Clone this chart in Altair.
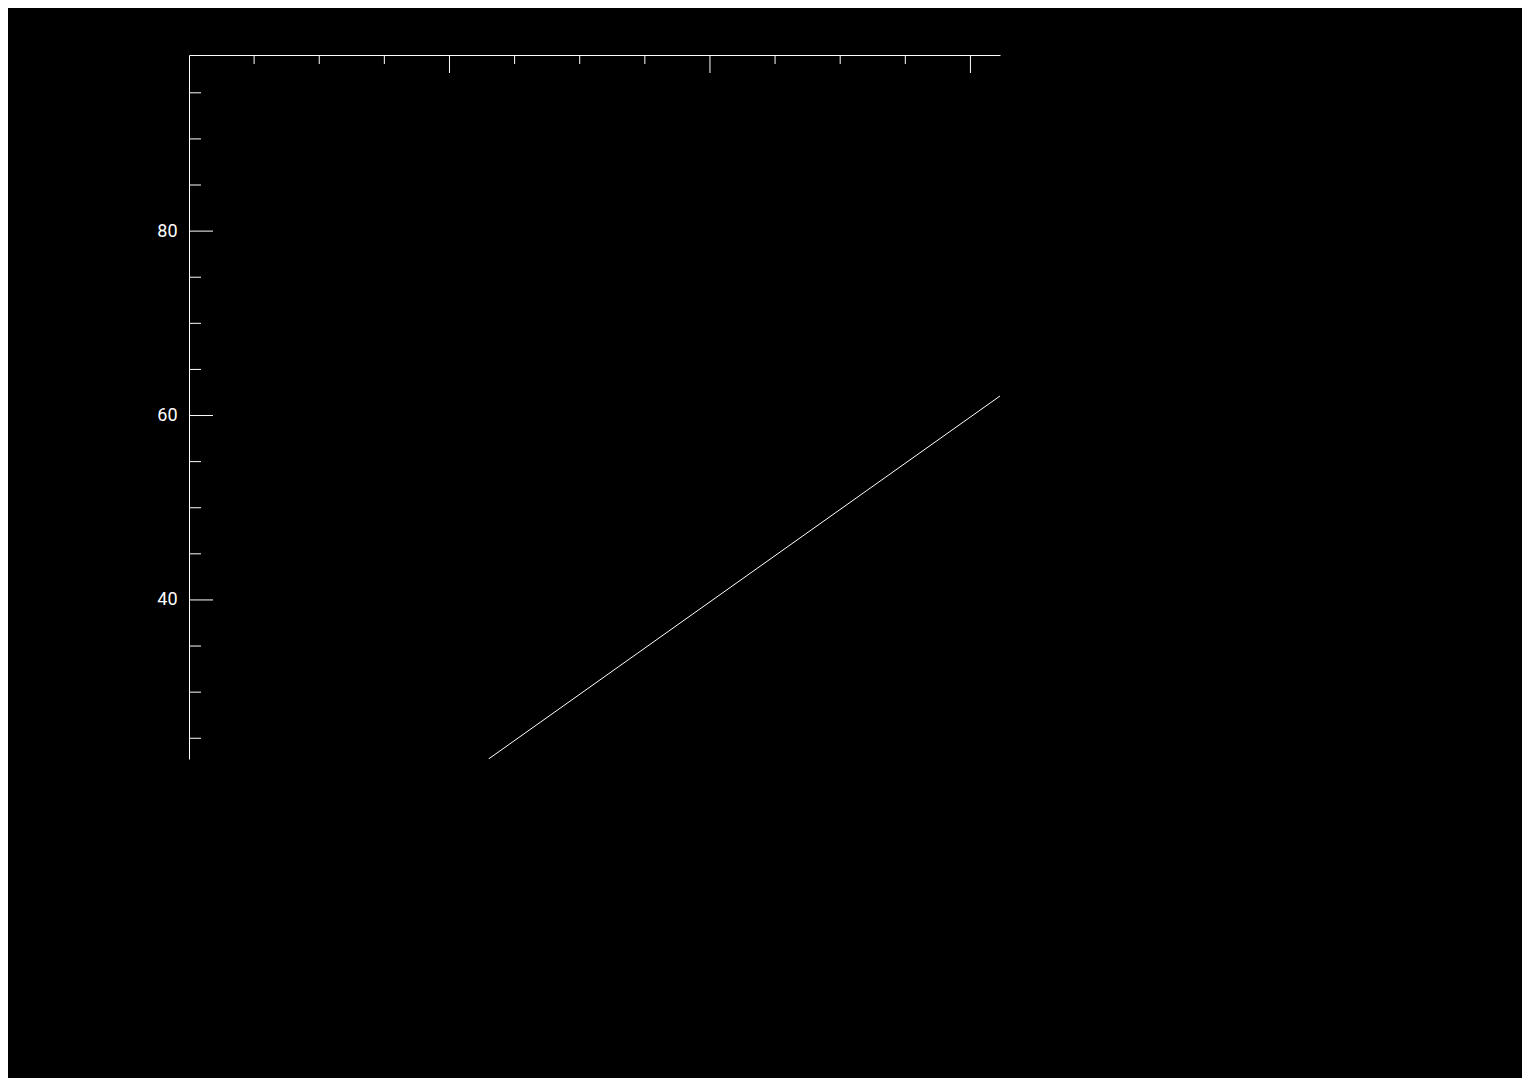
import altair as alt
import pandas as pd

# data
line_x = [23.0, 62.3]
line_y = [22.75, 62.15]
x_domain = [0, 62.27]
y_domain = [22.75, 99.1]
y_major = [40, 60, 80]
y_minor = [25, 30, 35, 45, 50, 55, 65, 70, 75, 85, 90, 95]
x_major = [20, 40, 60]
x_minor = [5, 10, 15, 25, 30, 35, 45, 50, 55]

line_df = pd.DataFrame({"x": line_x, "y": line_y})
ymaj_df = pd.DataFrame({"y": y_major})
ymin_df = pd.DataFrame({"y": y_minor})
xmaj_df = pd.DataFrame({"x": x_major})
xmin_df = pd.DataFrame({"x": x_minor})

xscale = alt.Scale(domain=x_domain, nice=False, zero=False)
yscale = alt.Scale(domain=y_domain, nice=False, zero=False)

xaxis = alt.Axis(orient="top", labels=False, ticks=False, tickSize=0, grid=False,
                 domain=True, domainColor="white", domainWidth=1, title=None)
yaxis = alt.Axis(orient="left", values=y_major, ticks=False, tickSize=0, grid=False,
                 domain=True, domainColor="white", domainWidth=1, labelPadding=12,
                 labelColor="white", labelFont="Roboto", labelFontSize=18, title=None)

X = lambda f: alt.X(f, type="quantitative", scale=xscale, axis=xaxis)
Y = lambda f: alt.Y(f, type="quantitative", scale=yscale, axis=yaxis)

line = alt.Chart(line_df).mark_line(color="white", strokeWidth=1, clip=True).encode(
    x=X("x"), y=Y("y")
)

ymaj = alt.Chart(ymaj_df).mark_rule(color="white", strokeWidth=1).encode(
    y=Y("y"), x=alt.value(0), x2=alt.value(24)
)
ymin = alt.Chart(ymin_df).mark_rule(color="white", strokeWidth=1).encode(
    y=Y("y"), x=alt.value(0), x2=alt.value(12)
)
xmaj = alt.Chart(xmaj_df).mark_rule(color="white", strokeWidth=1).encode(
    x=X("x"), y=alt.value(0), y2=alt.value(18)
)
xmin = alt.Chart(xmin_df).mark_rule(color="white", strokeWidth=1).encode(
    x=X("x"), y=alt.value(0), y2=alt.value(9)
)

page_css = (
    "html, body { background: #000 !important; } "
    ".vega-embed { background: #000; box-shadow: 0 0 0 40px #000; }"
)

chart = alt.layer(line, ymaj, ymin, xmaj, xmin).properties(
    width=811,
    height=704,
    background="black",
    autosize=alt.AutoSizeParams(type="none"),
    padding={"left": 181, "top": 47, "right": 522, "bottom": 319},
    usermeta={"embedOptions": {"defaultStyle": page_css}},
).configure_view(stroke=None)

chart.save("out.html", embed_options={"renderer": "svg", "actions": False})
